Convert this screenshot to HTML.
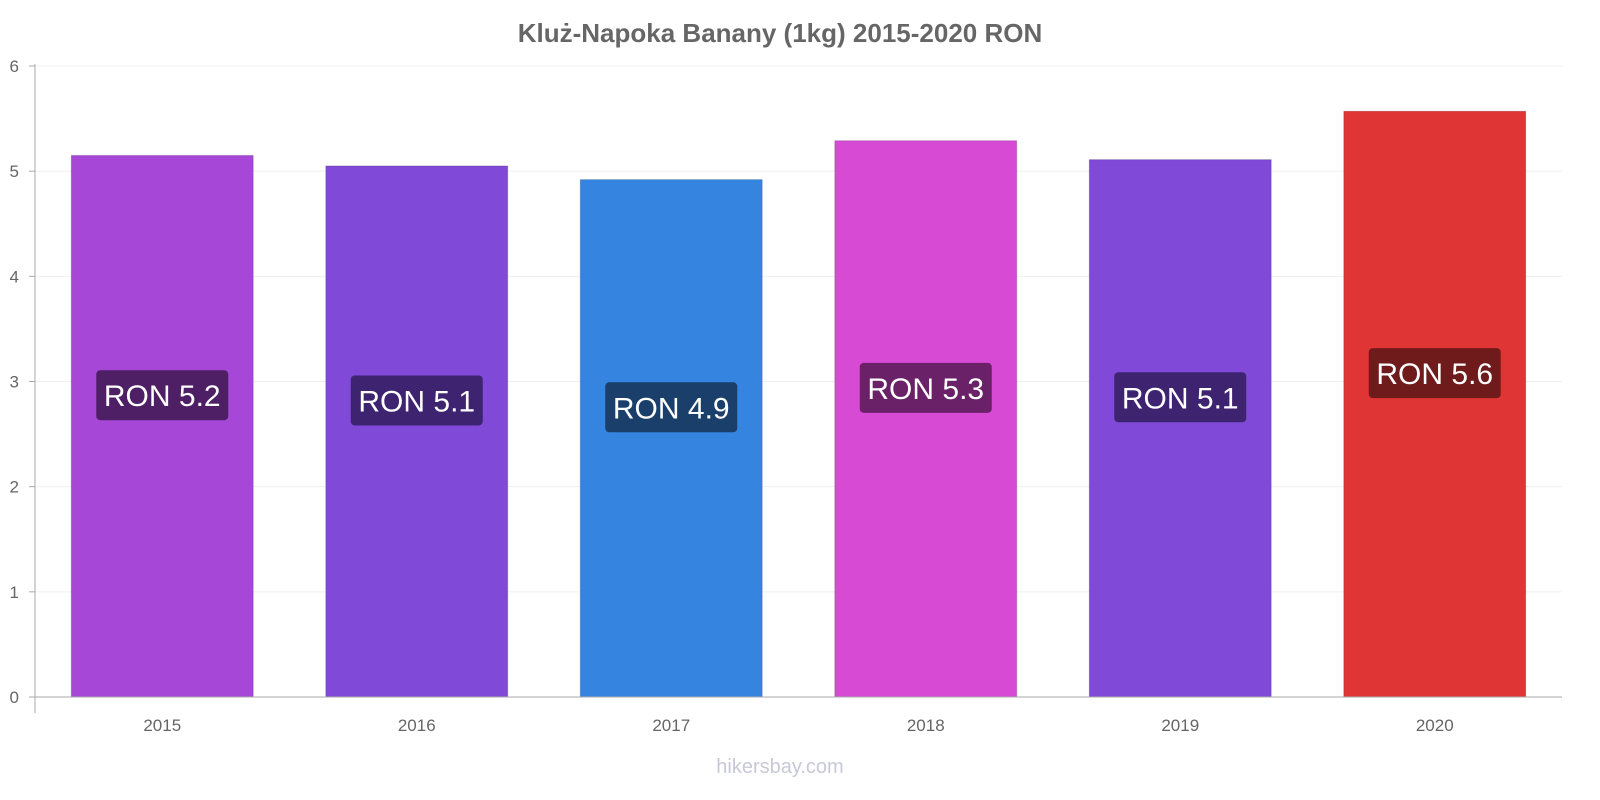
<!DOCTYPE html>
<html><head><meta charset="utf-8"><style>
body{margin:0;background:#fff;font-family:"Liberation Sans",sans-serif;}
svg{display:block}
</style></head><body>
<svg id="chart" width="1600" height="800">
<text x="780" y="42" text-anchor="middle" font-size="26" font-weight="bold" fill="#666">Kluż-Napoka Banany (1kg) 2015-2020 RON</text>
<text x="780" y="773" text-anchor="middle" font-size="20" fill="#c8c8d8">hikersbay.com</text>
<g id="grid"></g><g id="bars"></g><g id="axes"></g>
</svg>
<script>
const categories=["2015","2016","2017","2018","2019","2020"];
const values=[5.15,5.05,4.92,5.29,5.11,5.57];
const labels=["RON 5.2","RON 5.1","RON 4.9","RON 5.3","RON 5.1","RON 5.6"];
const yTicks=[0,1,2,3,4,5,6];
const colors=["#a647d8","#8049d8","#3584e0","#d64ad4","#8049d8","#e03535"];
const labelBg=["#4f1f66","#3e2470","#1a3f6b","#6a2168","#3e2470","#701b1b"];
const NS="http://www.w3.org/2000/svg";
const x0=35,x1=1562,y0=697,y6=66;
const y=v=>y0-(v/6)*(y0-y6);
const band=(x1-x0)/categories.length;
const xc=i=>x0+band*(i+0.5);
function mk(t,a,p){const e=document.createElementNS(NS,t);for(const k in a)e.setAttribute(k,a[k]);p.appendChild(e);return e;}
const G=document.getElementById("grid"),B=document.getElementById("bars"),A=document.getElementById("axes");
yTicks.forEach(t=>{
 const l=mk("line",{x1:x0,x2:x1,y1:y(t),y2:y(t),stroke:"#f0f0f0"},G);
 
 
 const tk=mk("line",{x1:x0-6,x2:x0,y1:y(t),y2:y(t),stroke:"#aaa"},A);
 
 
 const tx=mk("text",{x:x0-16,y:y(t)+6,"text-anchor":"end","font-size":17,fill:"#666"},A);
 tx.textContent=t;
 
 
});
mk("line",{x1:x0,x2:x0,y1:y6-2,y2:y0+16,stroke:"#aaa"},A);
mk("line",{x1:x0-6,x2:x1,y1:y0,y2:y0,stroke:"#aaa"},A);
const bw=182;
categories.forEach((c,i)=>{
 const r=mk("rect",{x:xc(i)-bw/2,y:y(values[i]),width:bw,height:y0-y(values[i]),fill:colors[i],stroke:"rgba(0,0,0,0.15)"},B);
 
 
 const cy=(y(values[i])+y0)/2-31;
 const bg=mk("rect",{x:xc(i)-66,y:cy-25,width:132,height:50,rx:4,fill:labelBg[i]},B);
 
 
 const t=mk("text",{x:xc(i),y:cy+11,"text-anchor":"middle","font-size":30,fill:"#fff"},B);
 t.textContent=labels[i];
 
 
 const xl=mk("text",{x:xc(i),y:731,"text-anchor":"middle","font-size":17,fill:"#666"},A);
 xl.textContent=c;
 
 
});
</script>
</body></html>
